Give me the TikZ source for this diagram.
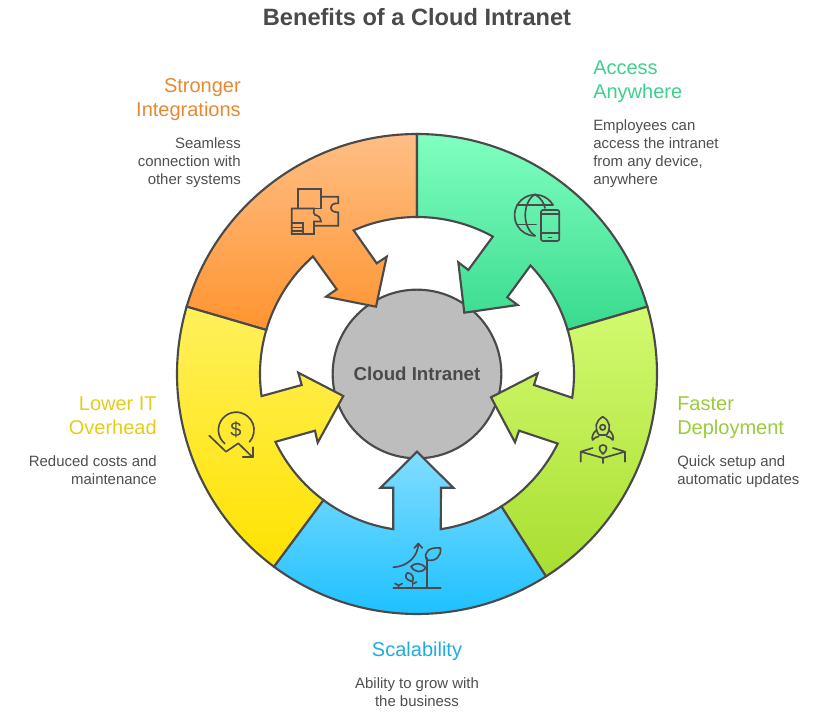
\documentclass[tikz,border=0pt]{standalone}
\usepackage{fontspec}
\setmainfont{Liberation Sans}
\usetikzlibrary{calc}
\definecolor{ink}{HTML}{4A4A4A}
\definecolor{txt}{HTML}{4F4F4F}
\definecolor{orangeA}{HTML}{FFBE85}
\definecolor{orangeB}{HTML}{FF9430}
\definecolor{greenA}{HTML}{80FFC0}
\definecolor{greenB}{HTML}{38DA8E}
\definecolor{limeA}{HTML}{D3FA70}
\definecolor{limeB}{HTML}{A8DE30}
\definecolor{blueA}{HTML}{82DDFF}
\definecolor{blueB}{HTML}{14BEFF}
\definecolor{yellowA}{HTML}{FFF05C}
\definecolor{yellowB}{HTML}{FFE200}
\definecolor{orangeT}{HTML}{E58A33}
\definecolor{greenT}{HTML}{3FCF8E}
\definecolor{limeT}{HTML}{9CCB3B}
\definecolor{blueT}{HTML}{1FADE0}
\definecolor{yellowT}{HTML}{E5CE1B}
\newcommand{\rpt}[2]{($(417,374)+(#1:#2)$)}
\tikzset{
  seg/.style={draw=ink,line width=1.6pt,line join=miter},
  icon/.style={draw=ink,line width=1.25pt,line join=round,line cap=round,fill=none},
  head/.style={font=\fontsize{15}{18}\selectfont,inner sep=0pt},
  body/.style={font=\fontsize{11.2}{13.5}\selectfont,text=txt,inner sep=0pt},
}
\begin{document}
\begin{tikzpicture}[x=0.75pt,y=0.75pt,yscale=-1]
\path[use as bounding box,fill=white] (0,0) rectangle (826,717);

\node[head,font=\bfseries\fontsize{17.7}{21}\selectfont,text=ink] (title) at (417,17.5) {Benefits of a Cloud Intranet};

\node[circle,draw=ink,fill=black!26,line width=1.6pt,minimum size=126.5pt,inner sep=0pt,font=\bfseries\fontsize{14}{16}\selectfont,text=ink] (hub) at (417,374) {Cloud Intranet};

% orange
\path[seg,top color=orangeA,bottom color=orangeB] \rpt{196.3}{240} arc[start angle=196.3,end angle=270,radius=240]
 -- \rpt{270}{157} arc[start angle=270,end angle=246.2,radius=157]
 -- (376.7,263.3) -- (386.7,256.7) -- (376,306.7) -- (326,296.7) -- (336.7,289.3) -- \rpt{228.5}{157}
 arc[start angle=228.5,end angle=196.3,radius=157] -- cycle;
% green
\path[seg,top color=greenA,bottom color=greenB] \rpt{270}{240} arc[start angle=270,end angle=343.7,radius=240]
 -- \rpt{343.7}{157} arc[start angle=343.7,end angle=316.3,radius=157]
 -- (507.3,297.3) -- (517.7,305) -- (464.3,312.7) -- (458.3,262.3) -- (468.3,270) -- \rpt{298.9}{157}
 arc[start angle=298.9,end angle=270,radius=157] -- cycle;
% lime
\path[seg,top color=limeA,bottom color=limeB] \rpt{-16.3}{240} arc[start angle=-16.3,end angle=57.5,radius=240]
 -- \rpt{57.5}{157} arc[start angle=57.5,end angle=26.3,radius=157]
 -- (519,430.7) -- (515,442.3) -- (491,397.3) -- (537.7,373.3) -- (534,385) -- \rpt{8.7}{157}
 arc[start angle=8.7,end angle=-16.3,radius=157] -- cycle;
% blue
\path[seg,top color=blueA,bottom color=blueB] \rpt{57.5}{240} arc[start angle=57.5,end angle=126.6,radius=240]
 -- \rpt{126.6}{157} arc[start angle=126.6,end angle=98.7,radius=157]
 -- (393.3,487.7) -- (380.7,487.7) -- (417,451.7) -- (453.3,487.7) -- (441,487.7) -- \rpt{81.3}{157}
 arc[start angle=81.3,end angle=57.5,radius=157] -- cycle;
% yellow
\path[seg,top color=yellowA,bottom color=yellowB] \rpt{126.6}{240} arc[start angle=126.6,end angle=196.3,radius=240]
 -- \rpt{196.3}{157} arc[start angle=196.3,end angle=171.9,radius=157]
 -- (301.7,385) -- (298.3,372.7) -- (343.3,396) -- (317.7,442.7) -- (315,430.7) -- \rpt{154.4}{157}
 arc[start angle=154.4,end angle=126.6,radius=157] -- cycle;

% icon: puzzle plan
\draw[icon,line join=miter] (298.3,208.5) -- (298.3,189.3) -- (321,189.3) -- (321,208.5) -- (315,208.5);
\draw[icon,line join=miter] (291.7,208.5) -- (314,208.5) .. controls (314,212) and (313,214) .. (315,215) .. controls (318,215) and (321,218) .. (321,221.5) -- (314,221.5) -- (314,234) -- (291.7,234) -- cycle;
\draw[icon,line join=miter] (321,196.7) -- (338.3,196.7) -- (338.3,203.3) .. controls (333,203) and (331,205) .. (331,208) .. controls (331,211) and (334,212.3) .. (338.3,212.3) -- (338.3,225.7) -- (314,225.7);
\draw[icon,line join=miter] (291.7,223.3) -- (302.7,223.3) -- (302.7,234) (291.7,227.5) -- (302.7,227.5) (291.7,231) -- (302.7,231);

% icon: globe and phone
\draw[icon] (553,205) arc[start angle=-30,end angle=-270,radius=20.6];
\draw[icon] (535,194.4) .. controls (522,202) and (522,228) .. (535,235.6);
\draw[icon] (535,194.4) .. controls (541,198) and (544,203) .. (545,208);
\draw[icon] (517,205) -- (553,205) (517,224.5) -- (536,224.5);
\draw[icon,rounded corners=1.5pt] (541,210) rectangle (559.3,241);
\draw[icon] (541,214.3) -- (559.3,214.3) (541,233.3) -- (559.3,233.3) (548.5,237.5) -- (551.5,237.5);

% icon: rocket
\draw[icon] (599,435) .. controls (594,428) and (595.5,421) .. (602.7,416.7) .. controls (610,421) and (611.5,428) .. (606.5,435) -- cycle;
\draw[icon] (602.7,427.3) circle[radius=2.7];
\draw[icon] (596.8,430) .. controls (593,432.5) and (591.5,437) .. (592.5,440) .. controls (594.5,437.5) and (596.5,437) .. (598.5,436.5);
\draw[icon] (608.6,430) .. controls (612.4,432.5) and (613.9,437) .. (612.9,440) .. controls (610.9,437.5) and (608.9,437) .. (606.9,436.5);
\draw[icon] (603,445) .. controls (598.5,445) and (598,450) .. (603,454) .. controls (608,450) and (607.5,445) .. (603,445) -- cycle;
\draw[icon] (580.7,461.7) -- (580.7,451.7) -- (592.7,448) (580.7,451.7) -- (603,458) -- (625,451.7) -- (613,448) (625,451.7) -- (625,461.7) (603,458) -- (603,463);

% icon: plant
\draw[icon] (393.3,588.3) -- (440.7,588.3);
\draw[icon] (393.3,567.3) .. controls (408,566.5) and (418,556) .. (418.3,544);
\draw[icon] (414.3,548) -- (418.3,543.5) -- (422.3,548);
\draw[icon] (426.7,588.3) -- (426.7,558);
\draw[icon] (426.7,560) .. controls (423,551) and (430,547) .. (440.5,548) .. controls (441.5,556) and (436,562) .. (426.7,560) -- cycle;
\draw[icon] (426,568) .. controls (421,562.5) and (415,562.5) .. (411,566.5) .. controls (415,573) and (422,573) .. (426,568) -- cycle;
\draw[icon] (412.5,588.3) -- (412.5,581.5);
\draw[icon] (412.5,584) -- (416.5,582);
\draw[icon] (412.5,581.5) .. controls (414.5,577) and (412,573.5) .. (407.5,572.7) .. controls (404,576) and (405.5,580) .. (412.5,581.5) -- cycle;
\draw[icon] (398.5,588.3) -- (398.5,585.5) (395,583.5) -- (398.5,585.5) -- (402.3,583.5);

% icon: falling cost
\draw[icon] (224.9,443.7) arc[start angle=129.6,end angle=401.8,radius=17.8];
\node[inner sep=0pt,font=\fontsize{15}{18}\selectfont,text=ink] (dollar) at (236,430) {\$};
\draw[icon] (209.3,435.7) -- (226,451.7) -- (238.3,443.3) -- (252.7,457.3);
\draw[icon] (242.7,457.3) -- (252.7,457.3) -- (252.7,447.3);

% labels
\node[head,text=orangeT,align=right,anchor=east] (h1) at (241,100) {Stronger\\Integrations};
\node[body,align=right,anchor=east] (b1) at (241,162.5) {Seamless\\connection with\\other systems};
\node[head,text=greenT,align=left,anchor=west] (h2) at (593,82) {Access\\Anywhere};
\node[body,align=left,anchor=west] (b2) at (593,153.5) {Employees can\\access the intranet\\from any device,\\anywhere};
\node[head,text=limeT,align=left,anchor=west] (h3) at (677,418) {Faster\\Deployment};
\node[body,align=left,anchor=west] (b3) at (677,471.5) {Quick setup and\\automatic updates};
\node[head,text=yellowT,align=right,anchor=east] (h4) at (157,416) {Lower IT\\Overhead};
\node[body,align=right,anchor=east] (b4) at (157,470) {Reduced costs and\\maintenance};
\node[head,text=blueT] (h5) at (417,651) {Scalability};
\node[body,align=center] (b5) at (417,692) {Ability to grow with\\the business};
\end{tikzpicture}
\end{document}
